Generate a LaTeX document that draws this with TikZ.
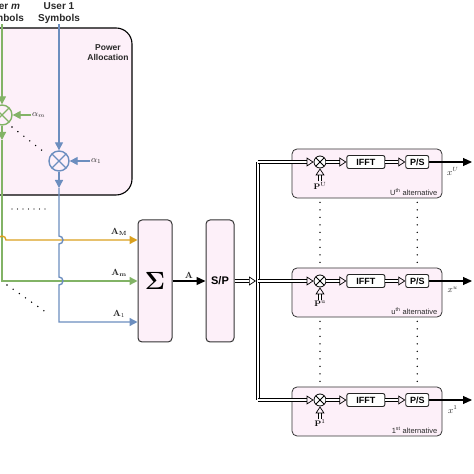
\documentclass[tikz,border=0pt]{standalone}
\usepackage[no-math]{fontspec}
\setmainfont{Liberation Sans}
\usepackage{amsmath}
\usepackage{xcolor}
\definecolor{allocBlue}{RGB}{108,142,191}
\definecolor{allocGreen}{RGB}{130,179,102}
\definecolor{allocGold}{RGB}{218,160,30}
\definecolor{boxPink}{RGB}{253,240,249}
\definecolor{textGray}{RGB}{40,40,40}
\usepackage{tikz}
\usetikzlibrary{arrows.meta, positioning}

\begin{document}
\begin{tikzpicture}[x=1pt, y=1pt,
  sym/.style={align=center, font=\fontsize{10}{11.5}\selectfont\bfseries, text=textGray, inner sep=1pt},
  mixer/.style={circle, draw=#1, line width=1.4pt, minimum size=20pt, inner sep=0pt, fill=boxPink,
                path picture={\draw[#1, line width=1.4pt]
                  (path picture bounding box.north west) -- (path picture bounding box.south east)
                  (path picture bounding box.north east) -- (path picture bounding box.south west);}},
  smix/.style={circle, draw, line width=0.8pt, minimum size=12pt, inner sep=0pt, fill=white,
               path picture={\draw[line width=0.8pt]
                  (path picture bounding box.north west) -- (path picture bounding box.south east)
                  (path picture bounding box.north east) -- (path picture bounding box.south west);}},
  pabox/.style={rectangle, rounded corners=16pt, draw, line width=1.1pt, fill=boxPink,
                minimum width=172pt, minimum height=167pt},
  tall/.style={rectangle, rounded corners=4pt, draw=black!80, line width=1pt, fill=boxPink,
               minimum height=122pt, inner sep=1pt},
  altbox/.style={rectangle, rounded corners=5pt, draw=black!80, line width=0.8pt, fill=boxPink,
                 minimum width=150pt, minimum height=49pt},
  fftbox/.style={rectangle, rounded corners=2pt, draw=black!85, line width=0.9pt, fill=white,
                 minimum height=13pt, inner sep=2pt, font=\fontsize{9}{9}\selectfont\bfseries},
  alttext/.style={anchor=south east, font=\fontsize{7.5}{8}\selectfont, text=textGray, inner sep=1pt},
  alab/.style={font=\small, text=textGray, inner sep=1pt},
  plabel/.style={font=\footnotesize, inner sep=0.5pt},
  cline/.style={line width=1.4pt, draw=#1},
  carrow/.style={cline=#1, -{Triangle[length=8pt, width=8pt]}},
  oarrow/.style={line width=1.1pt, -{Triangle[length=9pt, width=8pt]}},
  flex/.style={double=white, double distance=2pt, line width=0.7pt,
               -{Triangle[open, length=7pt, width=9pt]}},
  bus/.style={double=white, double distance=2pt, line width=0.7pt},
  dotrow/.style={line width=1.6pt, line cap=round, dash pattern=on 0pt off 7.5pt},
]
  \useasboundingbox (0,0) rectangle (474,474);

  % power allocation block
  \node[pabox] (pa) at (46,362.5) {};
  \node[sym, font=\fontsize{8.5}{10}\selectfont\bfseries] (patitle) at (108,421) {Power\\Allocation};
  \node[sym] (um) at (3,461) {User \textit{m}\\Symbols};
  \node[sym] (u1) at (59,461) {User 1\\Symbols};
  \node[mixer=allocGreen] (mixm) at (2,359) {};
  \node[mixer=allocBlue] (mix1) at (59,313) {};
  \node[alab, anchor=west] (alm) at (31,359) {$\alpha_m$};
  \node[alab, anchor=west] (al1) at (90,313) {$\alpha_1$};

  % sum and serial to parallel
  \node[tall, minimum width=34pt] (sig) at (155,193) {\fontsize{28}{28}\selectfont$\mathbf{\Sigma}$};
  \node[tall, minimum width=28pt, font=\fontsize{11}{11}\selectfont\bfseries] (sp) at (220,193) {S/P};

  \coordinate (gJoin) at (2,334);
  \coordinate (gTurn) at (2,193);
  \coordinate (bJoin) at (59,286);
  \coordinate (bTurn) at (59,152);
  \coordinate (yStart) at (-2,234);

  \draw[carrow=allocGreen] (um.south -| mixm) -- (mixm);
  \draw[carrow=allocGreen] (mixm) -- (gJoin);
  \draw[carrow=allocGreen] (gJoin) -- (gTurn) -- (sig.west);
  \draw[carrow=allocGreen] (alm.west) -- (mixm);
  \draw[carrow=allocGold] (yStart) arc[start angle=180, end angle=0, radius=4] -- (yStart -| sig.west);
  \draw[carrow=allocBlue] (u1) -- (mix1);
  \draw[carrow=allocBlue] (al1.west) -- (mix1);
  \draw[carrow=allocBlue] (mix1) -- (bJoin);
  \draw[carrow=allocBlue] (bJoin) -- (59,238) arc[start angle=90, end angle=-90, radius=4]
    -- (59,197) arc[start angle=90, end angle=-90, radius=4] -- (bTurn) -- (bTurn -| sig.west);

  \node[alab] at (119,242) {$\mathbf{A}_{\mathbf{M}}$};
  \node[alab] at (119,201) {$\mathbf{A}_{\mathbf{m}}$};
  \node[alab] at (119,160) {$\mathbf{A}_{1}$};
  \draw[oarrow, line width=1.4pt] (sig) -- (sp) node[alab, midway, above=1pt] {$\mathbf{A}$};

  \draw[dotrow] (12,347) -- (44,322);
  \draw[dotrow, line width=1.2pt, dash pattern=on 0pt off 5.5pt] (12,265) -- (50,265);
  \draw[dotrow] (7,189) -- (50,159);

  % alternatives
  \node[altbox] (altU) at (367,300.5) {};
  \node[altbox] (altu) at (367,181.5) {};
  \node[altbox] (alt1) at (367,62.5) {};

  \node[smix] (mU) at (320,312) {};
  \node[fftbox, minimum width=38pt, right=20pt of mU] (fU) {IFFT};
  \node[fftbox, minimum width=23pt, right=20pt of fU] (psU) {P/S};
  \node[plabel, below=13pt of mU] (pU) {$\mathbf{P}^{\mathrm{U}}$};
  \node[alttext] at ([shift={(-4pt,2pt)}]altU.south east) {U\textsuperscript{th} alternative};

  \node[smix] (mu) at (320,193) {};
  \node[fftbox, minimum width=38pt, right=20pt of mu] (fu) {IFFT};
  \node[fftbox, minimum width=23pt, right=20pt of fu] (psu) {P/S};
  \node[plabel, below=13pt of mu] (pu) {$\mathbf{P}^{\mathrm{u}}$};
  \node[alttext] at ([shift={(-4pt,2pt)}]altu.south east) {u\textsuperscript{th} alternative};

  \node[smix] (m1) at (320,74) {};
  \node[fftbox, minimum width=38pt, right=20pt of m1] (f1) {IFFT};
  \node[fftbox, minimum width=23pt, right=20pt of f1] (ps1) {P/S};
  \node[plabel, below=13pt of m1] (p1) {$\mathbf{P}^{1}$};
  \node[alttext] at ([shift={(-4pt,2pt)}]alt1.south east) {1\textsuperscript{st} alternative};

  \coordinate (busTop) at (258,312);
  \coordinate (busMid) at (258,193);
  \coordinate (busBot) at (258,74);
  \coordinate (outU) at (472,312);
  \coordinate (outu) at (472,193);
  \coordinate (out1) at (472,74);

  \draw[flex] (sp.east) -- ([xshift=-2pt]busMid);
  \draw[bus] (busTop) -- (busBot);
  \draw[flex] (busTop) -- (mU);
  \draw[flex] (busMid) -- (mu);
  \draw[flex] (busBot) -- (m1);

  \draw[flex] (pU) -- (mU);
  \draw[flex] (mU) -- (fU);
  \draw[flex] (fU) -- (psU);
  \draw[oarrow] (psU) -- (outU) node[alab, pos=0.55, below=4pt] {$x^{U}$};
  \draw[flex] (pu) -- (mu);
  \draw[flex] (mu) -- (fu);
  \draw[flex] (fu) -- (psu);
  \draw[oarrow] (psu) -- (outu) node[alab, pos=0.55, below=4pt] {$x^{u}$};
  \draw[flex] (p1) -- (m1);
  \draw[flex] (m1) -- (f1);
  \draw[flex] (f1) -- (ps1);
  \draw[oarrow] (ps1) -- (out1) node[alab, pos=0.55, below=4pt] {$x^{1}$};

  \draw[dotrow] ([yshift=-4pt]mU |- altU.south) -- ([yshift=4pt]mu |- altu.north);
  \draw[dotrow] ([yshift=-4pt]mu |- altu.south) -- ([yshift=4pt]m1 |- alt1.north);
  \draw[dotrow] ([yshift=-4pt]psU |- altU.south) -- ([yshift=4pt]psu |- altu.north);
  \draw[dotrow] ([yshift=-4pt]psu |- altu.south) -- ([yshift=4pt]ps1 |- alt1.north);
\end{tikzpicture}
\end{document}
